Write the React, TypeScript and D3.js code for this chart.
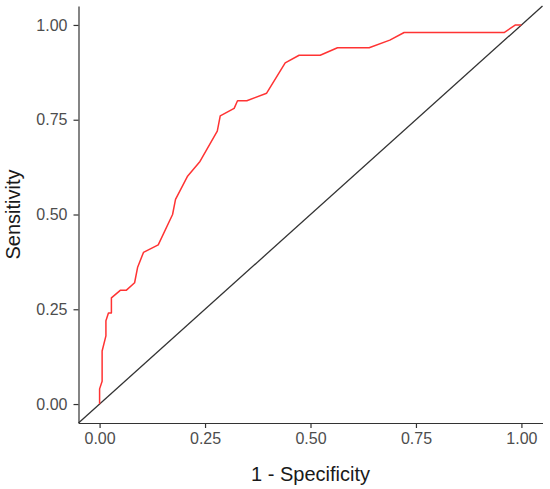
import { useEffect, useRef } from "react";
import * as d3 from "d3";

// ROC curve points (1 - specificity, sensitivity)
const fpr = [
  0, 0, 0.006, 0.006, 0.015, 0.015, 0.021, 0.028, 0.028, 0.049, 0.063, 0.083,
  0.09, 0.104, 0.139, 0.173, 0.18, 0.208, 0.238, 0.279, 0.286, 0.319, 0.327,
  0.349, 0.396, 0.44, 0.473, 0.523, 0.564, 0.639, 0.688, 0.722, 0.959, 0.986,
  1.0,
];
const tpr = [
  0, 0.04, 0.06, 0.14, 0.18, 0.22, 0.24, 0.24, 0.28, 0.3, 0.3, 0.32, 0.36,
  0.4, 0.42, 0.5, 0.54, 0.6, 0.64, 0.72, 0.76, 0.78, 0.8, 0.8, 0.82, 0.9,
  0.92, 0.92, 0.94, 0.94, 0.96, 0.98, 0.98, 1.0, 1.0,
];
const ticks = [0, 0.25, 0.5, 0.75, 1];

const WIDTH = 550;
const HEIGHT = 489;
const MARGIN = { top: 6, right: 7.5, bottom: 66, left: 78.5 };
const FONT = "'Liberation Sans', Arial, sans-serif";

export default function App() {
  const gRef = useRef<SVGGElement>(null);

  useEffect(() => {
    if (!gRef.current) return;
    const g = d3.select(gRef.current);
    g.selectAll("*").remove();

    const innerWidth = WIDTH - MARGIN.left - MARGIN.right;
    const innerHeight = HEIGHT - MARGIN.top - MARGIN.bottom;

    const x = d3.scaleLinear().domain([-0.05, 1.05]).range([0, innerWidth]);
    const y = d3.scaleLinear().domain([-0.05, 1.05]).range([innerHeight, 0]);

    // diagonal reference line across the whole panel
    g.append("line")
      .attr("x1", x(-0.05))
      .attr("y1", y(-0.05))
      .attr("x2", x(1.05))
      .attr("y2", y(1.05))
      .attr("stroke", "#333333")
      .attr("stroke-width", 1.3);

    // ROC curve
    const pts = fpr.map((f, i) => [f, tpr[i]] as [number, number]);
    const line = d3
      .line<[number, number]>()
      .x((d) => x(d[0]))
      .y((d) => y(d[1]));
    g.append("path")
      .datum(pts)
      .attr("d", line)
      .attr("fill", "none")
      .attr("stroke", "#FF3333")
      .attr("stroke-width", 1.5)
      .attr("stroke-linejoin", "round");

    const fmt = d3.format(".2f");

    // X axis
    const xa = g
      .append("g")
      .attr("transform", `translate(0,${innerHeight})`)
      .call(d3.axisBottom(x).tickValues(ticks).tickFormat((d) => fmt(+d)).tickSize(5).tickPadding(5).tickSizeOuter(0));
    xa.selectAll("text")
      .attr("fill", "#4D4D4D")
      .attr("font-size", 16)
      .attr("font-family", FONT);

    // Y axis
    const ya = g
      .append("g")
      .call(d3.axisLeft(y).tickValues(ticks).tickFormat((d) => fmt(+d)).tickSize(5).tickPadding(6).tickSizeOuter(0));
    ya.selectAll("text")
      .attr("fill", "#4D4D4D")
      .attr("font-size", 16)
      .attr("font-family", FONT);

    g.selectAll(".domain, .tick line")
      .attr("stroke", "#333333")
      .attr("stroke-width", 1.2);

    // X label
    g.append("text")
      .attr("x", x(0.5))
      .attr("y", innerHeight + 58)
      .attr("text-anchor", "middle")
      .attr("fill", "#1A1A1A")
      .attr("font-size", 20)
      .attr("font-family", FONT)
      .text("1 - Specificity");

    // Y label
    g.append("text")
      .attr("transform", "rotate(-90)")
      .attr("x", -innerHeight / 2)
      .attr("y", -MARGIN.left + 20)
      .attr("text-anchor", "middle")
      .attr("fill", "#1A1A1A")
      .attr("font-size", 20)
      .attr("font-family", FONT)
      .text("Sensitivity");
  }, []);

  return (
    <svg
      width={WIDTH}
      height={HEIGHT}
      style={{ position: "fixed", left: 0, top: 0, display: "block", background: "#fff" }}
    >
      <g ref={gRef} transform={`translate(${MARGIN.left},${MARGIN.top})`} />
    </svg>
  );
}
